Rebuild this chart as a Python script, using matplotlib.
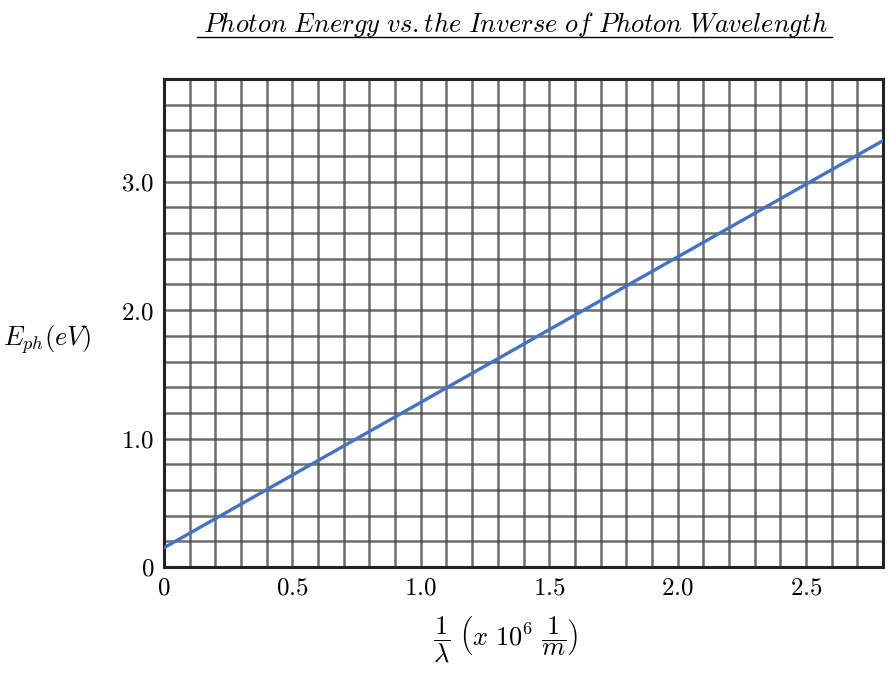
import numpy as np
import matplotlib
matplotlib.use("Agg")
import matplotlib.pyplot as plt
from matplotlib.lines import Line2D

plt.rcParams["mathtext.fontset"] = "cm"
plt.rcParams["font.family"] = "serif"

# data
inv_wavelength = [0.0, 2.8]          # x 10^6 1/m
photon_energy = [0.15, 3.32]         # eV
x_tick_values = [0, 0.5, 1.0, 1.5, 2.0, 2.5]
x_tick_labels = ["0", "0.5", "1.0", "1.5", "2.0", "2.5"]
y_tick_values = [0, 1.0, 2.0, 3.0]
y_tick_labels = ["0", "1.0", "2.0", "3.0"]

fig = plt.figure(figsize=(8.93, 6.86), dpi=100)
ax = fig.add_axes([0.1837, 0.1735, 0.8051, 0.7113])

ax.plot(inv_wavelength, photon_energy, color="#4472C4", lw=2.4, zorder=3)

ax.set_xlim(0, 2.8)
ax.set_ylim(0, 3.8)

ax.set_xticks(x_tick_values)
ax.set_xticklabels(["$" + t + "$" for t in x_tick_labels], fontsize=18)
ax.set_yticks(y_tick_values)
ax.set_yticklabels(["$" + t + "$" for t in y_tick_labels], fontsize=18)
ax.set_xticks(np.arange(0, 2.81, 0.1), minor=True)
ax.set_yticks(np.arange(0, 3.81, 0.2), minor=True)
ax.tick_params(which="both", length=0, pad=7)

ax.grid(which="both", color="#4a4a4a", lw=1.8, alpha=0.8)
ax.set_axisbelow(True)
for s in ax.spines.values():
    s.set_linewidth(2.2)
    s.set_color("#222222")

fig.text(0.003, 0.505, r"$E_{ph}(eV)$", fontsize=19, ha="left", va="center")
fig.text(0.566, 0.068, r"$\dfrac{1}{\lambda}\ \left(x\ 10^6\ \dfrac{1}{m}\right)$",
         fontsize=19, ha="center", va="center")

fig.text(0.577, 0.953,
         r"$Photon\ Energy\ vs.the\ Inverse\ of\ Photon\ Wavelength$",
         fontsize=19, ha="center", va="baseline")
fig.add_artist(Line2D([0.221, 0.932], [0.946, 0.946], color="black", lw=1.0,
                      transform=fig.transFigure))

fig.savefig("out.png", dpi=100)
